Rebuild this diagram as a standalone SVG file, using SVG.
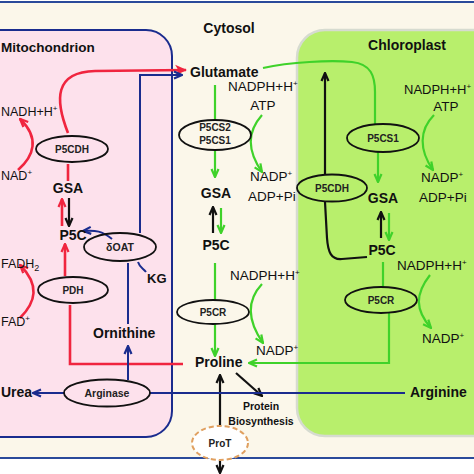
<svg xmlns="http://www.w3.org/2000/svg" width="474" height="474" viewBox="0 0 474 474">
<style>
.b{font-family:"Liberation Sans",Arial,sans-serif;font-weight:bold;font-size:14px;fill:#111}
.r{font-family:"Liberation Sans",Arial,sans-serif;font-size:13.5px;fill:#111}
.e{font-family:"Liberation Sans",Arial,sans-serif;font-weight:bold;font-size:10px;fill:#222;text-anchor:middle}
.el{fill:none;stroke:#111;stroke-width:1.8}
.red{fill:none;stroke:#f0253f;stroke-width:2.6}
.grn{fill:none;stroke:#3fd22a;stroke-width:2.2}
.blu{fill:none;stroke:#1a2c8e;stroke-width:2}
.blk{fill:none;stroke:#111;stroke-width:2.2}
</style>
<defs>
<marker id="mr" viewBox="0 0 10 10" refX="9" refY="5" markerWidth="10" markerHeight="10" markerUnits="userSpaceOnUse" orient="auto"><path d="M1,1.5 L9,5 L1,8.5" fill="none" stroke="#f0253f" stroke-width="2.2"/></marker>
<marker id="mrf" viewBox="0 0 10 10" refX="9" refY="5" markerWidth="12" markerHeight="12" markerUnits="userSpaceOnUse" orient="auto"><path d="M0,0.5 L10,5 L0,9.5 L2.5,5 Z" fill="#f0253f"/></marker>
<marker id="mg" viewBox="0 0 10 10" refX="9" refY="5" markerWidth="10" markerHeight="10" markerUnits="userSpaceOnUse" orient="auto"><path d="M1,1.5 L9,5 L1,8.5" fill="none" stroke="#3fd22a" stroke-width="2.2"/></marker>
<marker id="mb" viewBox="0 0 10 10" refX="9" refY="5" markerWidth="10" markerHeight="10" markerUnits="userSpaceOnUse" orient="auto"><path d="M1,1.5 L9,5 L1,8.5" fill="none" stroke="#1a2c8e" stroke-width="2.2"/></marker>
<marker id="mk" viewBox="0 0 10 10" refX="9" refY="5" markerWidth="10" markerHeight="10" markerUnits="userSpaceOnUse" orient="auto"><path d="M1,1.5 L9,5 L1,8.5" fill="none" stroke="#111" stroke-width="2.2"/></marker>
</defs>
<rect x="0" y="0" width="474" height="474" fill="#ffffff"/>
<rect x="-5" y="2" width="484" height="456" fill="#fbf7ea" stroke="#2a4a9a" stroke-width="2"/>
<g id="mitochondrion">
<rect x="-40" y="30" width="212" height="407" rx="26" fill="#fde1ec" stroke="#1a2c8e" stroke-width="2"/>
<text class="b" x="1" y="52" style="font-size:13.5px">Mitochondrion</text>
</g>
<g id="chloroplast">
<rect x="297" y="30" width="220" height="406" rx="28" fill="#b8ef6c" stroke="#d6dbd0" stroke-width="2.5"/>
<text class="b" x="407" y="50" text-anchor="middle">Chloroplast</text>
</g>
<text class="b" x="229" y="33" text-anchor="middle">Cytosol</text>

<g id="connectors">
<!-- red -->
<path class="red" d="M68,133 C55,100 54,72 95,71 L186,70" marker-end="url(#mrf)"/>
<path class="red" d="M18,170 C34,156 40,138 20,119" marker-end="url(#mr)"/>
<path class="red" d="M68,164 L68,181"/>
<path class="red" d="M62,226 L62,199" marker-end="url(#mr)"/>
<path class="red" d="M65,276 L65,244" marker-end="url(#mr)"/>
<path class="red" d="M20,318 C36,302 40,285 20,265" marker-end="url(#mr)"/>
<path class="red" d="M70,305 L70,364 L183,364"/>
<!-- black -->
<path class="blk" d="M69,198 L69,226" marker-end="url(#mk)"/>
<path class="blk" d="M213,233 L213,207" marker-end="url(#mk)"/>
<path class="blk" d="M325,175 L325,73" marker-end="url(#mk)"/>
<path class="blk" d="M367,257 L342,259 C331,260 328,252 327,238 L325,202"/>
<path class="blk" d="M381,238 L381,212" marker-end="url(#mk)"/>
<path class="blk" d="M236,373 L262,396" marker-end="url(#mk)"/>
<path class="blk" d="M220,426 L220,375" marker-end="url(#mk)"/>
<path class="blk" d="M220,460 L220,473" marker-end="url(#mk)"/>
<!-- blue -->
<path class="blu" d="M112,239 C102,231 96,230 83,231" marker-end="url(#mb)"/>
<path class="blu" d="M140,233 L140,75 L182,75" marker-end="url(#mb)"/>
<path class="blu" d="M138,262 C140,268 143,268 146,272"/>
<path class="blu" d="M128,324 L128,263"/>
<path class="blu" d="M128,380 L128,346" marker-end="url(#mb)"/>
<path class="blu" d="M64,393 L33,393" marker-end="url(#mb)"/>
<path class="blu" d="M405,393 L150,393"/>
<!-- green -->
<path class="grn" d="M215,85 L215,120"/>
<path class="grn" d="M215,150 L215,177" marker-end="url(#mg)"/>
<path class="grn" d="M262,115 C247,132 247,150 262,172" marker-end="url(#mg)"/>
<path class="grn" d="M221,208 L221,233" marker-end="url(#mg)"/>
<path class="grn" d="M215,263 L215,300"/>
<path class="grn" d="M215,324 L215,356" marker-end="url(#mg)"/>
<path class="grn" d="M262,284 C247,300 247,320 263,343" marker-end="url(#mg)"/>
<path class="grn" d="M263,68 C290,62 330,60 352,62 C371,64 375,76 375,92 L375,124"/>
<path class="grn" d="M378,152 L378,182" marker-end="url(#mg)"/>
<path class="grn" d="M434,115 C419,130 419,150 433,170" marker-end="url(#mg)"/>
<path class="grn" d="M389,213 L389,240" marker-end="url(#mg)"/>
<path class="grn" d="M383,262 L383,287"/>
<path class="grn" d="M430,275 C415,294 415,310 431,328" marker-end="url(#mg)"/>
<path class="grn" d="M389,313 L389,363 L249,363" marker-end="url(#mg)"/>
</g>

<g id="P5CDH-mito"><ellipse class="el" cx="72" cy="149" rx="36" ry="13"/><text class="e" x="72" y="153">P5CDH</text></g>
<g id="PDH"><ellipse class="el" cx="73" cy="290" rx="35" ry="13"/><text class="e" x="73" y="294">PDH</text></g>
<g id="dOAT"><ellipse class="el" cx="120" cy="247" rx="36" ry="14"/><text class="e" x="120" y="251" style="font-size:10.5px">δOAT</text></g>
<g id="Arginase"><ellipse class="el" cx="107" cy="393" rx="43" ry="13.5"/><text class="e" x="107" y="397" style="font-size:10.5px">Arginase</text></g>
<g id="P5CS-cyto"><ellipse class="el" cx="215" cy="135" rx="36" ry="15"/><text class="e" x="215" y="131">P5CS2</text><text class="e" x="215" y="144">P5CS1</text></g>
<g id="P5CR-cyto"><ellipse class="el" cx="213" cy="312" rx="36" ry="12"/><text class="e" x="213" y="316">P5CR</text></g>
<g id="P5CS1-chl"><ellipse class="el" cx="383" cy="138" rx="36" ry="14"/><text class="e" x="383" y="142">P5CS1</text></g>
<g id="P5CDH-chl"><ellipse class="el" cx="332" cy="188" rx="35" ry="13.5"/><text class="e" x="332" y="192">P5CDH</text></g>
<g id="P5CR-chl"><ellipse class="el" cx="381" cy="300" rx="36" ry="13"/><text class="e" x="381" y="304">P5CR</text></g>
<g id="ProT"><ellipse cx="220" cy="443" rx="28" ry="17" fill="#ffffff" stroke="#e0a060" stroke-width="2" stroke-dasharray="5,3"/><text class="e" x="220" y="447">ProT</text></g>

<g id="metabolites">
<text class="b" x="190" y="77">Glutamate</text>
<text class="b" x="216" y="198" text-anchor="middle">GSA</text>
<text class="b" x="216" y="250" text-anchor="middle">P5C</text>
<text class="b" x="195" y="367">Proline</text>
<text class="b" x="93" y="338">Ornithine</text>
<text class="b" x="1" y="397">Urea</text>
<text class="b" x="410" y="397">Arginine</text>
<text class="b" x="68" y="193" text-anchor="middle">GSA</text>
<text class="b" x="73" y="240" text-anchor="middle">P5C</text>
<text class="b" x="147" y="283" style="font-size:13px">KG</text>
<text class="b" x="383" y="203" text-anchor="middle">GSA</text>
<text class="b" x="382" y="255" text-anchor="middle">P5C</text>
<text class="b" x="261" y="410" text-anchor="middle" style="font-size:10.5px">Protein</text>
<text class="b" x="261" y="425" text-anchor="middle" style="font-size:10.5px">Biosynthesis</text>
</g>
<g id="cofactors">
<text class="r" x="228" y="91">NADPH+H<tspan dy="-5" font-size="8">+</tspan></text>
<text class="r" x="263" y="110" text-anchor="middle">ATP</text>
<text class="r" x="250" y="181">NADP<tspan dy="-5" font-size="8">+</tspan></text>
<text class="r" x="248" y="201">ADP+Pi</text>
<text class="r" x="230" y="280">NADPH+H<tspan dy="-5" font-size="8">+</tspan></text>
<text class="r" x="256" y="355">NADP<tspan dy="-5" font-size="8">+</tspan></text>
<text class="r" x="404" y="94" style="font-size:13px">NADPH+H<tspan dy="-5" font-size="8">+</tspan></text>
<text class="r" x="446" y="111" text-anchor="middle">ATP</text>
<text class="r" x="421" y="182">NADP<tspan dy="-5" font-size="8">+</tspan></text>
<text class="r" x="419" y="202">ADP+Pi</text>
<text class="r" x="397" y="270">NADPH+H<tspan dy="-5" font-size="8">+</tspan></text>
<text class="r" x="422" y="343">NADP<tspan dy="-5" font-size="8">+</tspan></text>
<text class="r" x="1" y="116" style="font-size:12.5px">NADH+H<tspan dy="-5" font-size="8">+</tspan></text>
<text class="r" x="1" y="180" style="font-size:12.5px">NAD<tspan dy="-5" font-size="8">+</tspan></text>
<text class="r" x="1" y="268" style="font-size:12.5px">FADH<tspan dy="3" font-size="9">2</tspan></text>
<text class="r" x="1" y="326" style="font-size:12.5px">FAD<tspan dy="-5" font-size="8">+</tspan></text>
</g>
</svg>
